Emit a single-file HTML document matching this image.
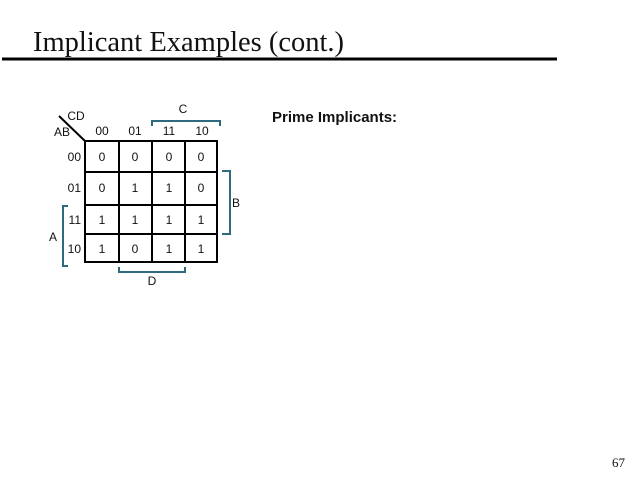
<!DOCTYPE html>
<html><head><style>
body{margin:0;background:#fff;width:638px;height:478px;overflow:hidden}
</style></head><body>
<svg width="638" height="478" viewBox="0 0 638 478" xmlns="http://www.w3.org/2000/svg">
<text x="33" y="51" font-family="Liberation Serif, serif" font-size="28.5" fill="#111">Implicant Examples (cont.)</text>
<line x1="2" y1="59" x2="557" y2="59" stroke="#000" stroke-width="3"/>
<g stroke="#000" stroke-width="2" fill="none">
<rect x="85" y="141" width="132" height="121"/>
<line x1="119" y1="141" x2="119" y2="262"/>
<line x1="152" y1="141" x2="152" y2="262"/>
<line x1="185" y1="141" x2="185" y2="262"/>
<line x1="85" y1="172" x2="217" y2="172"/>
<line x1="85" y1="205" x2="217" y2="205"/>
<line x1="85" y1="234" x2="217" y2="234"/>
<line x1="59" y1="116" x2="85" y2="141"/>
</g>
<g stroke="#2e6b80" stroke-width="2" fill="none">
<polyline points="152,126 152,121 220,121 220,126"/>
<polyline points="222,171 230,171 230,234 222,234"/>
<polyline points="68,206 63,206 63,266 68,266"/>
<polyline points="119,267 119,272 185,272 185,267"/>
</g>
<g font-family="Liberation Sans, sans-serif" font-size="12" fill="#111" text-anchor="middle">
<text x="76" y="120">CD</text>
<text x="62" y="136">AB</text>
<text x="102" y="135">00</text>
<text x="135" y="135">01</text>
<text x="169" y="135">11</text>
<text x="202" y="135">10</text>
<text x="183" y="113">C</text>
<text x="236" y="207">B</text>
<text x="53" y="241">A</text>
<text x="152" y="285">D</text>
<g text-anchor="end"><text x="81" y="161">00</text><text x="81" y="192">01</text><text x="81" y="224">11</text><text x="81" y="253">10</text></g>
<text x="102" y="161">0</text><text x="135" y="161">0</text><text x="169" y="161">0</text><text x="201" y="161">0</text>
<text x="102" y="192">0</text><text x="135" y="192">1</text><text x="169" y="192">1</text><text x="201" y="192">0</text>
<text x="102" y="224">1</text><text x="135" y="224">1</text><text x="169" y="224">1</text><text x="201" y="224">1</text>
<text x="102" y="253">1</text><text x="135" y="253">0</text><text x="169" y="253">1</text><text x="201" y="253">1</text>
</g>
<text x="272" y="122" font-family="Liberation Sans, sans-serif" font-size="15" font-weight="bold" fill="#111">Prime Implicants:</text>
<text x="612" y="467" font-family="Liberation Serif, serif" font-size="13" fill="#111">67</text>
</svg>
</body></html>
